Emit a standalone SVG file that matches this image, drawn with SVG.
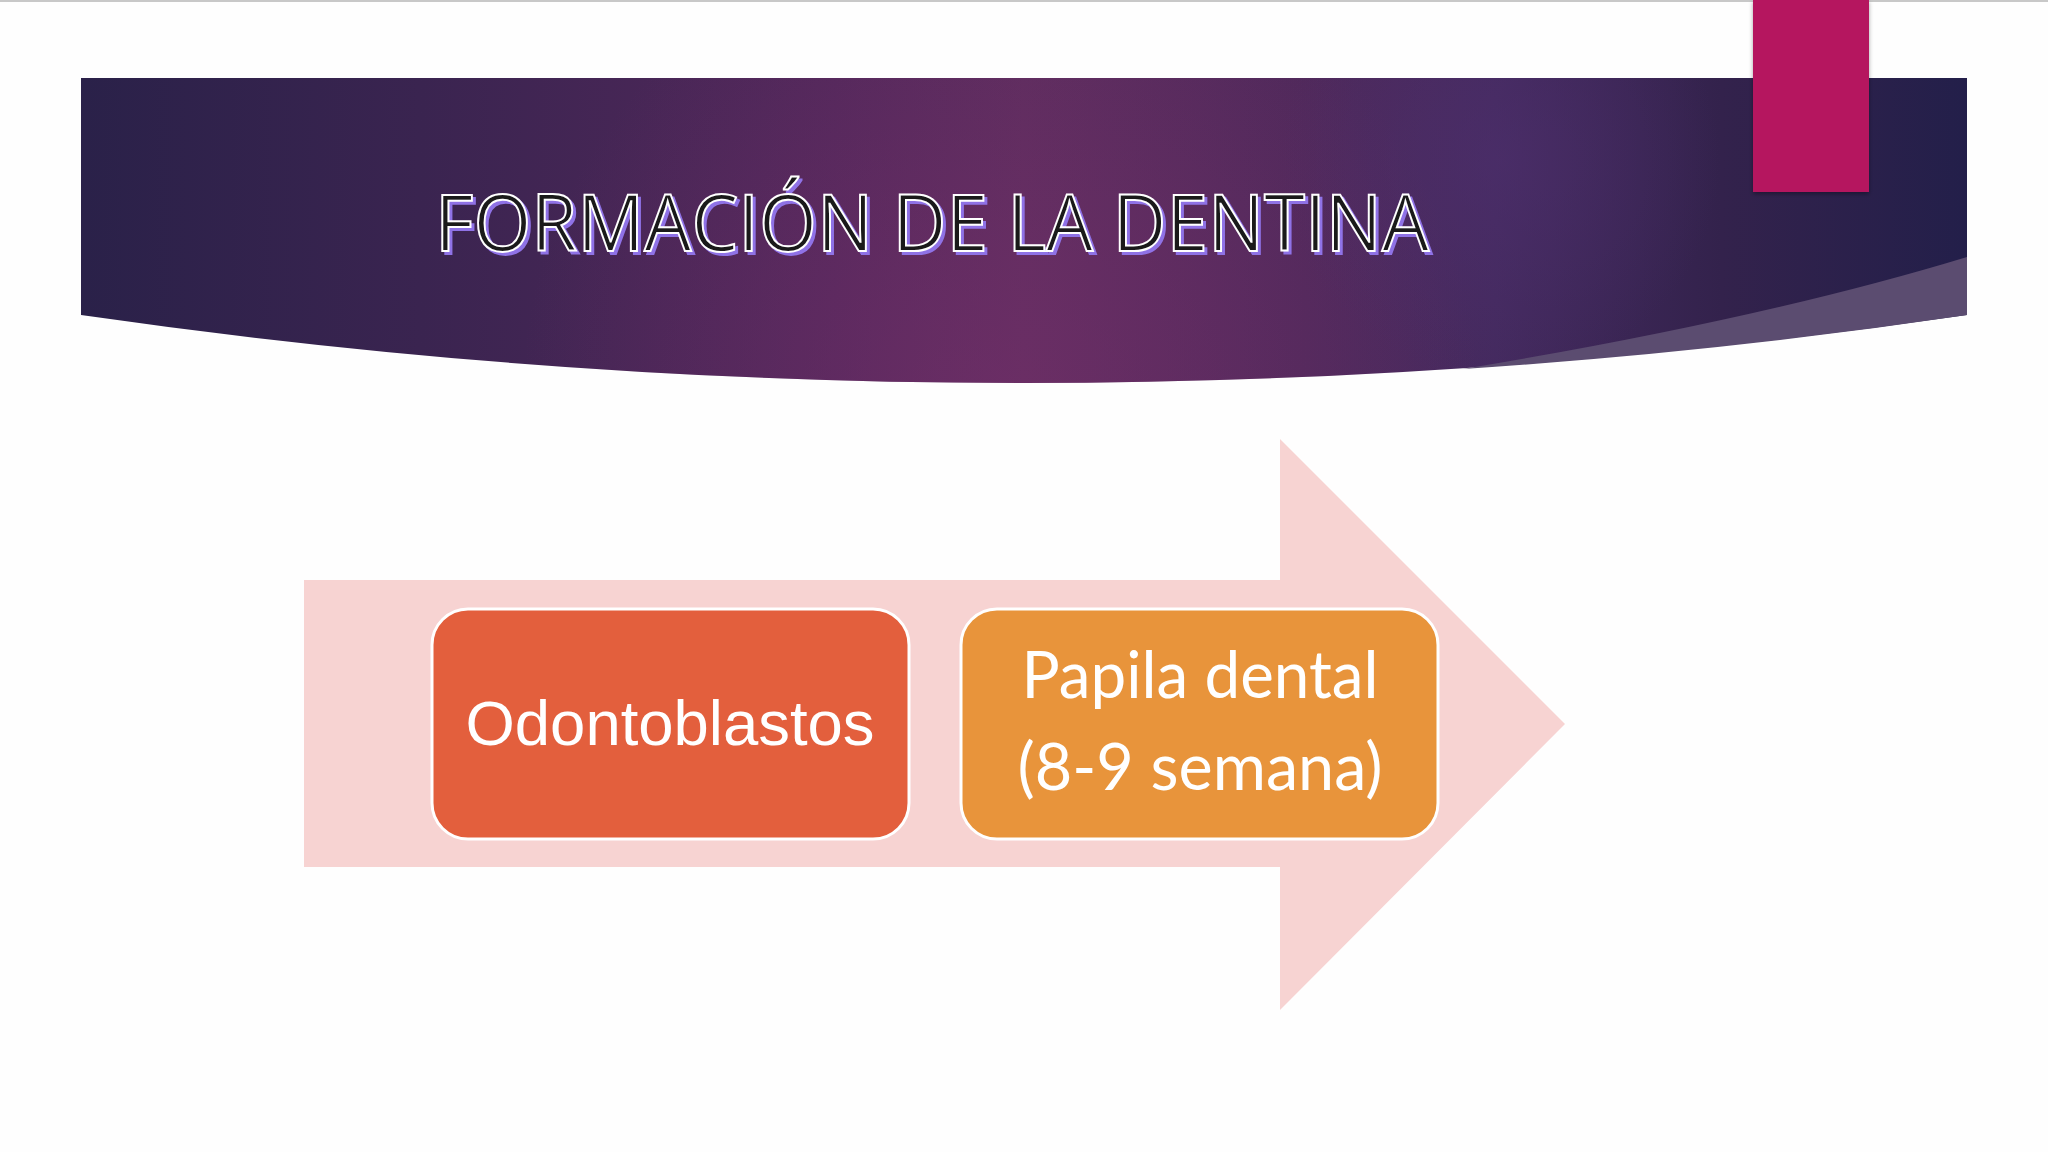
<svg xmlns="http://www.w3.org/2000/svg" width="2048" height="1152" viewBox="0 0 2048 1152">
  <defs>
    <linearGradient id="bannerGrad" x1="81" y1="0" x2="1967" y2="0" gradientUnits="userSpaceOnUse">
      <stop offset="0" stop-color="#2a2149"/>
      <stop offset="0.18" stop-color="#3a2450"/>
      <stop offset="0.4" stop-color="#52285b"/>
      <stop offset="0.5" stop-color="#5c2d5e"/>
      <stop offset="0.65" stop-color="#4f295b"/>
      <stop offset="0.75" stop-color="#442a5f"/>
      <stop offset="0.87" stop-color="#33224c"/>
      <stop offset="1" stop-color="#231f4a"/>
    </linearGradient>
    <radialGradient id="glow" cx="1000" cy="400" r="480" gradientUnits="userSpaceOnUse">
      <stop offset="0" stop-color="#7a2f6c" stop-opacity="0.5"/>
      <stop offset="1" stop-color="#7a2f6c" stop-opacity="0"/>
    </radialGradient>
    <radialGradient id="glow2" cx="1500" cy="160" r="220" gradientUnits="userSpaceOnUse">
      <stop offset="0" stop-color="#4e2f6e" stop-opacity="0.55"/>
      <stop offset="1" stop-color="#4e2f6e" stop-opacity="0"/>
    </radialGradient>
    <filter id="shadow" x="-20%" y="-20%" width="140%" height="140%">
      <feDropShadow dx="0" dy="2" stdDeviation="2" flood-color="#000" flood-opacity="0.35"/>
    </filter>
  </defs>
  <style>
    .title { font-family: "Open Sans", "DejaVu Sans", sans-serif; font-weight: 400; font-size: 78px; }
    .box { stroke: #ffffff; stroke-width: 3; }
    .lbl { font-family: "Liberation Sans", Arial, sans-serif; font-size: 63px; fill: #ffffff; }
    .lbl2 { font-family: Lato, "Open Sans", sans-serif; font-size: 66px; fill: #ffffff; }
  </style>

  <rect x="0" y="0" width="2048" height="1152" fill="#fefefe"/>
  <line x1="0" y1="1" x2="2048" y2="1" stroke="#c8c8c8" stroke-width="2"/>

  <g id="banner">
    <path d="M81 78 H1967 V315 Q1024 451 81 315 Z" fill="url(#bannerGrad)"/>
    <path d="M81 78 H1967 V315 Q1024 451 81 315 Z" fill="url(#glow)"/>
    <path d="M81 78 H1967 V315 Q1024 451 81 315 Z" fill="url(#glow2)"/>
    <path d="M1463 369 Q1760 320 1967 257 V315 Q1720 352 1463 369 Z" fill="#5b4c70"/>
  </g>

  <g id="accent">
    <rect x="1753" y="0" width="116" height="192" fill="#b5135f" filter="url(#shadow)"/>
  </g>

  <g id="title">
    <text class="title" x="935" y="254" text-anchor="middle" fill="#8f72e6" stroke="#8f72e6" stroke-width="2" textLength="994" lengthAdjust="spacingAndGlyphs">FORMACIÓN DE LA DENTINA</text>
    <text class="title" x="932" y="251" text-anchor="middle" fill="#1a1a1a" stroke="#ffffff" stroke-width="2" textLength="994" lengthAdjust="spacingAndGlyphs">FORMACIÓN DE LA DENTINA</text>
  </g>

  <g id="connectors">
    <path id="bigArrow" d="M304 580 H1280 V439 L1565 724 L1280 1010 V867 H304 Z" fill="#f7d3d2"/>
  </g>

  <g id="node-odontoblastos">
    <rect class="box" x="432" y="609" width="477" height="230" rx="36" fill="#e35f3d"/>
    <text class="lbl" x="670" y="745" text-anchor="middle" textLength="409" lengthAdjust="spacingAndGlyphs">Odontoblastos</text>
  </g>

  <g id="node-papila">
    <rect class="box" x="961" y="609" width="477" height="230" rx="36" fill="#e8943b"/>
    <text class="lbl2" x="1200" y="698" text-anchor="middle" textLength="357" lengthAdjust="spacingAndGlyphs">Papila dental</text>
    <text class="lbl2" x="1200" y="790" text-anchor="middle" textLength="365" lengthAdjust="spacingAndGlyphs">(8-9 semana)</text>
  </g>
</svg>
